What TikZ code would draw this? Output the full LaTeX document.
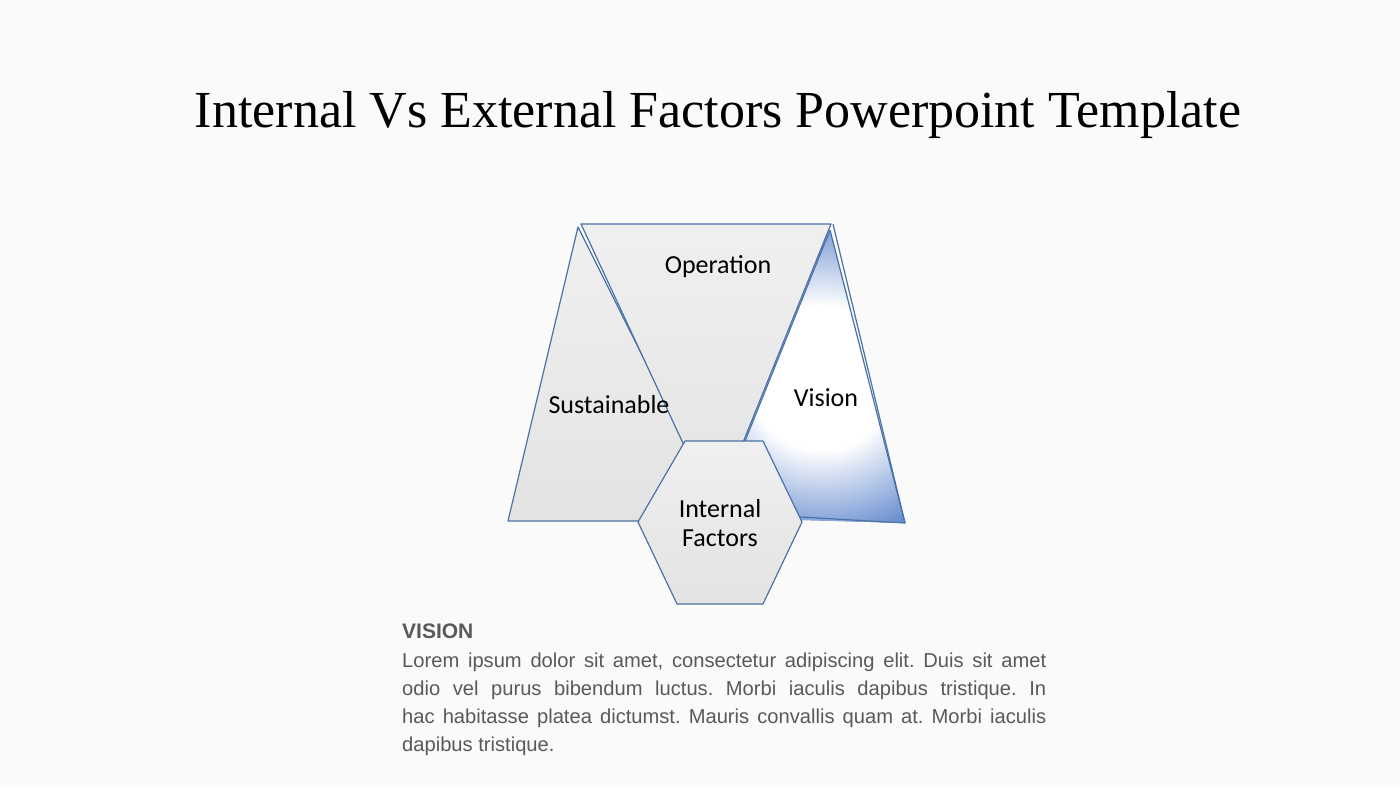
\documentclass[tikz,border=0pt]{standalone}
\usepackage{fontspec}
\setmainfont{Liberation Serif}
\newfontfamily\carl{Carlito}
\newfontfamily\arialf{Liberation Sans}
\usetikzlibrary{shapes.geometric}
\definecolor{edge}{HTML}{4A72A6}
\definecolor{vblue}{HTML}{4472C4}
\definecolor{bodyg}{HTML}{595959}
\pgfdeclareradialshading{visshade}{\pgfpoint{0bp}{0bp}}{color(0bp)=(white); color(9bp)=(white); color(23bp)=(vblue); color(50bp)=(vblue)}
\tikzset{
  piece/.style={draw=edge, line width=1.2pt, line join=round, top color=gray!12, bottom color=gray!22},
  lab/.style={font=\carl\fontsize{26}{30}\selectfont, align=center}
}
\begin{document}
\frenchspacing
\begin{tikzpicture}[x=1pt,y=-1pt]
\fill[gray!4] (0,0) rectangle (1400,787);
\useasboundingbox (0,0) rectangle (1400,787);
\node[font=\fontsize{52}{60}\selectfont] (title) at (718,115) {Internal Vs External Factors Powerpoint Template};
% vision back outline
\draw[edge, line width=1.2pt] (833,224) -- (905,523);
% vision
\begin{scope}
\clip (830,230) -- (700,517) -- (905,523) -- cycle;
\fill[vblue] (650,200) rectangle (920,540);
\shade[shading=visshade] (822,378) circle (200pt);
\end{scope}
\draw[edge, line width=1.2pt, line join=round] (830,230) -- (745,441) (800,517) -- (905,523) -- (830,230);
% sustainable
\draw[piece] (578,227) -- (508,521) -- (725,521) -- cycle;
% operation
\draw[piece] (581,224) -- (831,224) -- (715,512) -- cycle;
% hexagon
\draw[piece] (685,441) -- (763,441) -- (802,522) -- (763,604) -- (677,604) -- (638,522) -- cycle;
\node[lab] (op) at (718,267) {Operation};
\node[lab] (su) at (609,405) {Sustainable};
\node[lab] (vi) at (826,398) {Vision};
\node[lab] (hx) at (720,523) {Internal\\[-1pt]Factors};
\node[anchor=west, font=\arialf\bfseries\fontsize{21}{24}\selectfont, text=bodyg, inner sep=0pt] (vh) at (402,631) {VISION};
\node[anchor=north west, inner sep=0pt, text width=644pt, align=justify, font=\arialf\fontsize{20.15}{28}\selectfont, text=bodyg] (body) at (402,653) {Lorem ipsum dolor sit amet, consectetur adipiscing elit. Duis sit amet odio vel purus bibendum luctus. Morbi iaculis dapibus tristique. In hac habitasse platea dictumst. Mauris convallis quam at. Morbi iaculis\linebreak dapibus tristique.};
\end{tikzpicture}
\end{document}
